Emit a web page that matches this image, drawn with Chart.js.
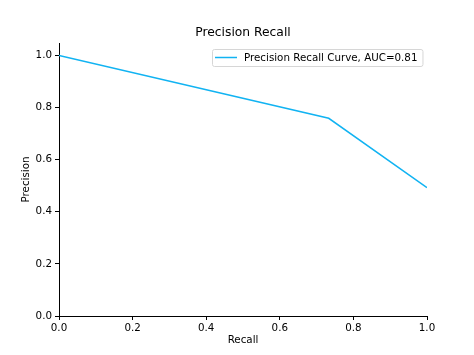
<!DOCTYPE html>
<html>
<head>
<meta charset="utf-8">
<script src="https://cdn.jsdelivr.net/npm/chart.js@4"></script>
<style>
html,body{margin:0;padding:0;background:#fff;}
#wrap{width:474px;height:355px;position:relative;}
</style>
</head>
<body>
<div id="wrap"><canvas id="c" width="474" height="355"></canvas></div>
<script>
const recall = [0.0, 0.733, 1.0];
const precision = [1.0, 0.759, 0.493];
const xTicks = [0.0, 0.2, 0.4, 0.6, 0.8, 1.0];
const yTicks = [0.0, 0.2, 0.4, 0.6, 0.8, 1.0];
const seriesLabel = 'Precision Recall Curve, AUC=0.81';
const chartTitle = 'Precision Recall';
const xLabel = 'Recall';
const yLabel = 'Precision';

const FONT = 'DejaVu Sans';
const lineColor = '#11b3f2';

const points = recall.map((r, i) => ({x: r, y: precision[i]}));

const overlay = {
  id: 'overlay',
  afterDraw(chart) {
    const ctx = chart.ctx;
    const ca = chart.chartArea;
    ctx.save();
    // title
    ctx.fillStyle = '#000';
    ctx.font = '12.3px "' + FONT + '"';
    ctx.textAlign = 'center';
    ctx.textBaseline = 'alphabetic';
    ctx.fillText(chartTitle, (ca.left + ca.right) / 2, 36);
    // legend
    ctx.font = '10.3px "' + FONT + '"';
    const tw = ctx.measureText(seriesLabel).width;
    const bw = 3 + 22 + 7 + tw + 5;
    const bh = 17;
    const bx = Math.round(ca.right - 5 - bw);
    const by = Math.round(ca.top + 6);
    ctx.fillStyle = 'rgba(255,255,255,0.8)';
    ctx.strokeStyle = '#d6d6d6';
    ctx.lineWidth = 1;
    ctx.beginPath();
    if (ctx.roundRect) ctx.roundRect(bx + 0.5, by + 0.5, bw, bh, 2); else ctx.rect(bx + 0.5, by + 0.5, bw, bh);
    ctx.fill();
    ctx.stroke();
    ctx.strokeStyle = lineColor;
    ctx.lineWidth = 1.5;
    ctx.beginPath();
    ctx.moveTo(bx + 3, by + bh / 2);
    ctx.lineTo(bx + 25, by + bh / 2);
    ctx.stroke();
    ctx.fillStyle = '#000';
    ctx.textAlign = 'left';
    ctx.textBaseline = 'middle';
    ctx.fillText(seriesLabel, bx + 32, by + bh / 2 + 1);
    ctx.restore();
  }
};

new Chart(document.getElementById('c'), {
  type: 'scatter',
  data: {
    datasets: [{
      label: seriesLabel,
      data: points,
      showLine: true,
      borderColor: lineColor,
      backgroundColor: lineColor,
      borderWidth: 1.5,
      pointRadius: 0,
      tension: 0,
      fill: false
    }]
  },
  options: {
    responsive: false,
    animation: false,
    events: [],
    layout: { padding: { top: 43, right: 47, left: 20, bottom: 8 } },
    plugins: { legend: { display: false }, title: { display: false }, tooltip: { enabled: false } },
    scales: {
      x: {
        type: 'linear', min: 0, max: 1,
        afterFit(s) { s.height = 31; },
        afterBuildTicks(s) { s.ticks = xTicks.map(v => ({value: v})); },
        grid: { display: true, drawOnChartArea: false, drawTicks: true, tickLength: 4, color: '#000', tickWidth: 1 },
        border: { display: true, color: '#000', width: 1 },
        ticks: { color: '#000', padding: 2, font: { family: FONT, size: 10.3 }, maxRotation: 0,
          callback: v => Number(v).toFixed(1) },
        title: { display: true, text: xLabel, color: '#000', font: { family: FONT, size: 10.3 }, padding: { top: 0, bottom: 0 } }
      },
      y: {
        type: 'linear', min: 0, max: 1.048,
        afterFit(s) { s.width = 39; },
        afterBuildTicks(s) { s.ticks = yTicks.map(v => ({value: v})); },
        grid: { display: true, drawOnChartArea: false, drawTicks: true, tickLength: 4, color: '#000', tickWidth: 1 },
        border: { display: true, color: '#000', width: 1 },
        ticks: { color: '#000', padding: 3, font: { family: FONT, size: 10.3 },
          callback: v => Number(v).toFixed(1) },
        title: { display: true, text: yLabel, color: '#000', font: { family: FONT, size: 10.3 }, padding: { top: 0, bottom: 0 } }
      }
    }
  },
  plugins: [overlay]
});
</script>
</body>
</html>
